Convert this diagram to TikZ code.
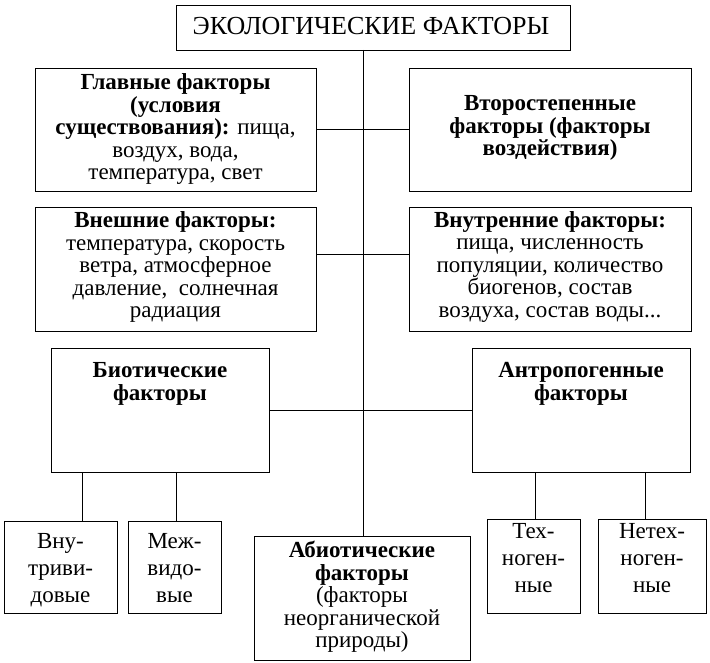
\documentclass[tikz,border=0pt]{standalone}
\usepackage{fontspec}
\setmainfont{Liberation Serif}
\usetikzlibrary{positioning}
\tikzset{
	fbox/.style={align=center, inner sep=0pt},
	small/.style={fbox, font=\fontsize{23}{27}\selectfont},
	ln/.style={thick}
}
\begin{document}
\begin{tikzpicture}[x=1pt,y=-1pt,font=\fontsize{23}{22.5}\selectfont]
\useasboundingbox (0,0) rectangle (710,663);
% boxes
\draw[ln] (176,5) rectangle (570,50);
\node[font=\fontsize{26}{21}\selectfont] (title) at (371,26) {ЭКОЛОГИЧЕСКИЕ ФАКТОРЫ};
\draw[ln] (35,68) rectangle (316,191);
\node[fbox] (main) at (175.5,129.5) {\textbf{Главные факторы}\\\textbf{(условия}\\\textbf{существования):} пища,\\воздух, вода,\\температура, свет};
\draw[ln] (409,68) rectangle (691,191);
\node[fbox] (second) at (550,128) {\textbf{Второстепенные}\\\textbf{факторы (факторы}\\\textbf{воздействия)}};
\draw[ln] (35,207) rectangle (316,331);
\node[fbox] (extern) at (175.5,267) {\textbf{Внешние факторы:}\\температура, скорость\\ветра, атмосферное\\давление,\ \ солнечная\\радиация};
\draw[ln] (409,207) rectangle (691,331);
\node[fbox] (intern) at (550,267) {\textbf{Внутренние факторы:}\\пища, численность\\популяции, количество\\биогенов, состав\\воздуха, состав воды...};
\draw[ln] (51,348) rectangle (269,472);
\node[fbox] (biotic) at (160,384) {\textbf{Биотические}\\\textbf{факторы}};
\draw[ln] (472,348) rectangle (690,472);
\node[fbox] (anthro) at (581,384) {\textbf{Антропогенные}\\\textbf{факторы}};
\draw[ln] (4,521) rectangle (117,613);
\node[small] (intra) at (60.5,570) {Вну-\\триви-\\довые};
\draw[ln] (128,521) rectangle (221,613);
\node[small] (inter) at (174.5,568) {Меж-\\видо-\\вые};
\draw[ln] (254,536) rectangle (470,660);
\node[fbox] (abiotic) at (362,597) {\textbf{Абиотические}\\\textbf{факторы}\\(факторы\\неорганической\\природы)};
\draw[ln] (487,519) rectangle (580,613);
\node[small] (techno) at (533.5,558) {Тех-\\ноген-\\ные};
\draw[ln] (598,519) rectangle (706,613);
\node[small] (nontech) at (652,558) {Нетех-\\ноген-\\ные};
% connectors
\draw[ln] (363,50) -- (363,536);
\draw[ln] (316,129) -- (409,129);
\draw[ln] (316,254) -- (409,254);
\draw[ln] (269,410) -- (472,410);
\draw[ln] (82,472) -- (82,521);
\draw[ln] (176,472) -- (176,521);
\draw[ln] (535,472) -- (535,519);
\draw[ln] (645,472) -- (645,519);
\end{tikzpicture}
\end{document}
